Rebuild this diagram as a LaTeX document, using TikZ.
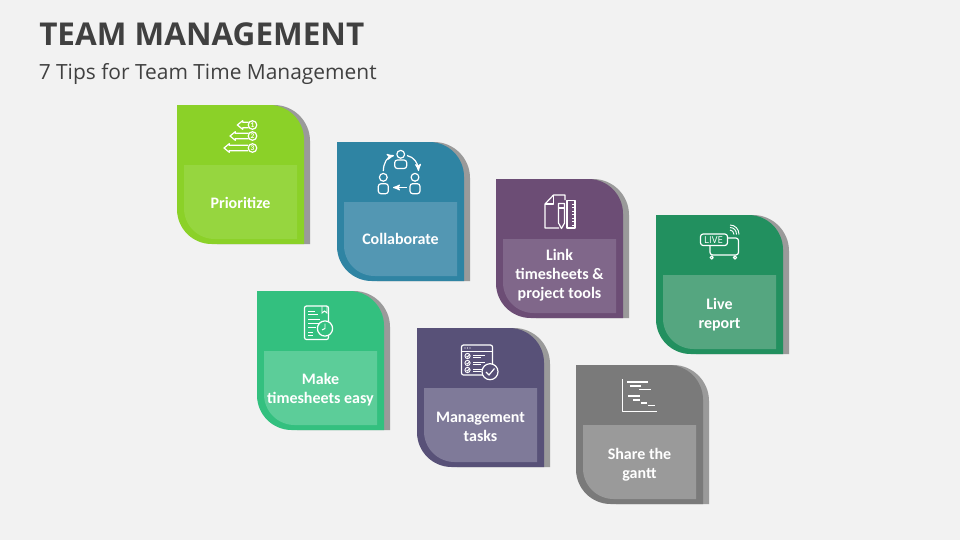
\documentclass[tikz,border=0pt]{standalone}
\usepackage{fontspec}
\setmainfont{Carlito}
\newfontfamily\titlefont{Open Sans}
\usepackage{xcolor}
\usetikzlibrary{arrows}

\definecolor{page_bg}{HTML}{F2F2F2}
\definecolor{title_text}{HTML}{404040}
\definecolor{shadow_grey}{HTML}{9A9A9A}
\definecolor{prioritize_main}{HTML}{8BD128}
\definecolor{prioritize_soft}{HTML}{96D63F}
\definecolor{collaborate_main}{HTML}{2F84A3}
\definecolor{collaborate_soft}{HTML}{5397B3}
\definecolor{link_main}{HTML}{6C4D75}
\definecolor{link_soft}{HTML}{80678A}
\definecolor{live_main}{HTML}{22905F}
\definecolor{live_soft}{HTML}{55A680}
\definecolor{easy_main}{HTML}{33C07F}
\definecolor{easy_soft}{HTML}{5CCD99}
\definecolor{tasks_main}{HTML}{585178}
\definecolor{tasks_soft}{HTML}{7F7A99}
\definecolor{gantt_main}{HTML}{7A7A7A}
\definecolor{gantt_soft}{HTML}{9A9A9A}

% grey back, coloured front, lighter panel
\newcommand{\tipcard}[2]{
  \fill[shadow_grey] (40,0) [rounded corners=27pt] -- (133,0) [sharp corners] -- (133,139) -- (40,139) -- cycle;
  \fill[#1] (0,0) [rounded corners=26pt] -- (127,0) [sharp corners] -- (127,139) [rounded corners=26pt] -- (0,139) [sharp corners] -- cycle;
  \fill[#2] (7,60) -- (120,60) -- (120,134) [rounded corners=23pt] -- (7,134) [sharp corners] -- cycle;
}

\begin{document}
\begin{tikzpicture}[x=0.75pt,y=-0.75pt]
      \tikzstyle{tip_label}=[text=white, font=\fontsize{12}{14.4}\selectfont\bfseries, align=center, inner sep=0pt]
      \tikzstyle{icon}=[draw=white, line width=0.9pt, line join=round]
      \tikzstyle{icon_thin}=[draw=white, line width=0.7pt]
      \tikzstyle{icon_bar}=[draw=white, line width=1.3pt]
      \tikzstyle{icon_num}=[text=white, font=\fontsize{5.5}{5.5}\selectfont\bfseries, inner sep=0pt]

      \fill[page_bg] (0,0) rectangle (960,540);
      \useasboundingbox (0,0) rectangle (960,540);

      \node (title) at (39,34) [anchor=west, inner sep=0pt, text=title_text, font=\titlefont\fontsize{23.6}{25}\selectfont\bfseries] {TEAM MANAGEMENT};
      \node (subtitle) at (38.5,74.5) [anchor=west, inner sep=0pt, text=title_text, font=\titlefont\fontsize{15.7}{16}\selectfont] {7 Tips for Team Time Management};

      % Prioritize
      \begin{scope}[shift={(177,105)}]
        \tipcard{prioritize_main}{prioritize_soft}
        \node (prioritize) at (63.5,98) [tip_label] {Prioritize};
        \draw[icon] (71.5,17.3) -- (65.7,17.3) -- (65.7,15.7) -- (60.3,20) -- (65.7,24.3) -- (65.7,22.7) -- (71.5,22.7);
        \draw[icon] (71.5,28.3) -- (58.3,28.3) -- (58.3,26.7) -- (53,31) -- (58.3,35.3) -- (58.3,33.7) -- (71.5,33.7);
        \draw[icon] (71,40.3) -- (52.3,40.3) -- (52.3,38.7) -- (47,43) -- (52.3,47.3) -- (52.3,45.7) -- (71,45.7);
        \draw[icon] (75.5,20) circle (4.3);
        \draw[icon] (75.5,31) circle (4.3);
        \draw[icon] (75.5,43) circle (4.3);
        \node (num1) at (75.5,20) [icon_num] {1};
        \node (num2) at (75.5,31) [icon_num] {2};
        \node (num3) at (75.5,43) [icon_num] {3};
      \end{scope}

      % Collaborate
      \begin{scope}[shift={(337,142)}]
        \tipcard{collaborate_main}{collaborate_soft}
        \node (collaborate) at (63.5,97) [tip_label] {Collaborate};
        \draw[icon] (63.7,12.3) circle (3.9);
        \draw[icon, rounded corners=2pt] (57.7,26.5) -- (57.7,18) -- (69.7,18) -- (69.7,26.5) -- cycle;
        \draw[icon] (46.3,35.3) circle (3.9);
        \draw[icon, rounded corners=2pt] (41.3,51.7) -- (41.3,41.7) -- (51.3,41.7) -- (51.3,51.7) -- cycle;
        \draw[icon] (78,35.3) circle (3.9);
        \draw[icon, rounded corners=2pt] (73,51.7) -- (73,41.7) -- (83,41.7) -- (83,51.7) -- cycle;
        \draw[icon, -stealth'] (46.3,29) .. controls (46.5,21) and (50,15) .. (57,13.5);
        \draw[icon, -stealth'] (70,13.5) .. controls (77,15) and (81,21) .. (81.5,29);
        \draw[icon, -stealth'] (70,45.5) -- (56,45.5);
      \end{scope}

      % Link timesheets & project tools
      \begin{scope}[shift={(496,179)}]
        \tipcard{link_main}{link_soft}
        \node (link) at (63.5,96) [tip_label] {Link\\timesheets \&\\project tools};
        \draw[icon] (63,49) -- (49,49) -- (49,25) -- (57.5,16) -- (69,16) -- (69,21);
        \draw[icon] (57.5,16) -- (57.5,25) -- (49,25);
        \draw[icon] (62.5,24.5) -- (68.5,24.5) -- (68.5,44) -- (65.5,49.5) -- (62.5,44) -- cycle;
        \draw[icon] (62.5,29) -- (68.5,29);
        \draw[icon] (71,21.5) rectangle (79,49);
        \foreach \ticky in {25,28.5,32,35.5,39,42.5,46}
          \draw[icon_thin] (76,\ticky) -- (79,\ticky);
      \end{scope}

      % Live report
      \begin{scope}[shift={(656,215)}]
        \tipcard{live_main}{live_soft}
        \node (live) at (63.5,100) [tip_label] {Live\\report};
        \draw[icon, rounded corners=2pt] (44.5,19) rectangle (71.5,30.5);
        \node (live_word) at (57.5,24.8) [text=white, inner sep=0pt, font=\titlefont\fontsize{7.2}{8}\selectfont] {LIVE};
        \draw[icon, rounded corners=2pt] (71.5,23) -- (82.5,23) -- (82.5,40) -- (54,40) -- (54,30.5);
        \draw[icon] (55.7,42.5) circle (1.6);
        \draw[icon] (79,42.5) circle (1.6);
        \draw[icon_thin] (74,15) .. controls (76,15) and (78,17) .. (78,19.5);
        \draw[icon_thin] (74,12.5) .. controls (78,12.5) and (80.5,15.5) .. (80.5,19.5);
        \draw[icon_thin] (74,10) .. controls (79,10) and (83,14) .. (83,19.5);
      \end{scope}

      % Make timesheets easy
      \begin{scope}[shift={(257,291)}]
        \tipcard{easy_main}{easy_soft}
        \node (easy) at (63.5,99) [tip_label] {Make\\timesheets easy};
        \draw[icon, rounded corners=1.5pt] (47.5,15) rectangle (71.5,48.5);
        \draw[icon_thin] (65,15) -- (65,22) -- (67.5,20) -- (70,22) -- (70,15);
        \foreach \linea/\lineb in {20/58, 23/61, 28.5/63, 32.5/62, 36.5/59, 41/56, 44/56}
          \draw[icon_thin] (51,\linea) -- (\lineb,\linea);
        \draw[icon, fill=easy_main] (68,37.5) circle (7.6);
        \draw[icon_thin] (68,32.5) -- (68,37.5) -- (65,39);
      \end{scope}

      % Management tasks
      \begin{scope}[shift={(417,328)}]
        \tipcard{tasks_main}{tasks_soft}
        \node (tasks) at (63.5,98.5) [tip_label] {Management\\tasks};
        \draw[icon, rounded corners=1.5pt] (44.5,17) rectangle (75.5,47);
        \draw[icon_thin] (44.5,23) -- (75.5,23);
        \foreach \dotx in {48,50.5,53}
          \fill[white] (\dotx,20) circle (0.7);
        \foreach \rowy in {28,35,42}{
          \draw[icon_thin] (50.5,\rowy) circle (2.6);
          \draw[icon_thin] (49.5,\rowy) -- (50.5,\rowy+1) -- (52.5,\rowy-1.5);
          \draw[icon_thin] (56,\rowy-1) -- (68,\rowy-1);
          \draw[icon_thin] (56,\rowy+1.5) -- (64,\rowy+1.5);
        }
        \draw[icon, fill=tasks_main] (73,43.7) circle (8);
        \draw[icon] (69,44) -- (72,47) -- (77.5,40.5);
      \end{scope}

      % Share the gantt
      \begin{scope}[shift={(576,365)}]
        \tipcard{gantt_main}{gantt_soft}
        \node (gantt) at (63.5,99.5) [tip_label] {Share the\\gantt};
        \draw[icon] (46.5,14) -- (46.5,46.3) -- (80.5,46.3);
        \draw[icon_bar] (51,17) -- (72,17);
        \draw[icon_bar] (54,21) -- (65,21);
        \draw[icon_bar] (63,24.5) -- (75,24.5);
        \draw[icon_bar] (52,31) -- (64,31);
        \draw[icon_bar] (57,35) -- (64,35);
        \draw[icon_bar] (65,38) -- (71,38);
        \draw[icon_bar] (72,40.5) -- (79,40.5);
      \end{scope}
    \end{tikzpicture}
\end{document}
